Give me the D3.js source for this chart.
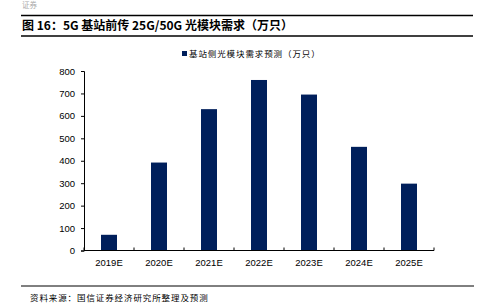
<!DOCTYPE html>
<html>
<head>
<meta charset="utf-8">
<script src="https://cdn.jsdelivr.net/npm/d3@7"></script>
<style>
  body { margin: 0; background: #fff; }
  svg { display: block; }
</style>
</head>
<body>
<svg id="chart" width="492" height="307"></svg>
<script>
const years = ["2019E", "2020E", "2021E", "2022E", "2023E", "2024E", "2025E"];
const demand = [70, 392, 630, 760, 695, 462, 298];
const yTicks = [0, 100, 200, 300, 400, 500, 600, 700, 800];
const seriesName = "基站侧光模块需求预测（万只）";
const titleText = "图 16：5G 基站前传 25G/50G 光模块需求（万只）";
const sourceText = "资料来源：国信证券经济研究所整理及预测";

const svg = d3.select("#chart");
const cjk = "'Noto Sans CJK SC', sans-serif";
const latin = "'Liberation Sans', Arial, sans-serif";

// header piece at the very top of the page
svg.append("text").attr("x", 22).attr("y", 8)
  .attr("font-family", cjk).attr("font-size", 7.5).attr("fill", "#aaa").text("证券");

// title bar lines
svg.append("line").attr("x1", 21).attr("x2", 473).attr("y1", 15.5).attr("y2", 15.5)
  .attr("stroke", "#000").attr("stroke-width", 1.3);
svg.append("line").attr("x1", 21).attr("x2", 473).attr("y1", 36).attr("y2", 36)
  .attr("stroke", "#000").attr("stroke-width", 1.3);

svg.append("text").attr("x", 22).attr("y", 30)
  .attr("font-family", cjk).attr("font-size", 12).attr("font-weight", "bold")
  .text(titleText);

let x = d3.scaleBand()
  .domain(years)
  .range([84, 434])
  .paddingInner(0.68)
  .paddingOuter(0.34);

let y = d3.scaleLinear()
  .domain([0, 800])
  .range([250.5, 71]);

// bars
svg.append("g").selectAll("rect")
  .data(demand)
  .join("rect")
  .attr("x", (d, i) => x(years[i]))
  .attr("width", x.bandwidth())
  .attr("y", d => y(d))
  .attr("height", d => y(0) - y(d))
  .attr("fill", "#001f5b");

// y axis
let yAxis = svg.append("g")
  .attr("transform", "translate(84,0)")
  .call(d3.axisLeft(y).tickValues(yTicks).tickSize(3).tickPadding(6));
yAxis.selectAll("text").attr("font-family", latin).attr("font-size", 9.5).attr("fill", "#000");
yAxis.selectAll("line, path").attr("stroke", "#000");

// x axis, ticks sit between categories
let xAxis = svg.append("g").attr("transform", `translate(0,${y(0)})`);
xAxis.append("line").attr("x1", 84).attr("x2", 434).attr("stroke", "#000");
xAxis.selectAll(".tk")
  .data(d3.range(years.length + 1))
  .join("line")
  .attr("x1", i => 84 + i * x.step())
  .attr("x2", i => 84 + i * x.step())
  .attr("y1", -3).attr("y2", 0)
  .attr("stroke", "#000");
xAxis.selectAll("text")
  .data(years)
  .join("text")
  .attr("x", d => x(d) + x.bandwidth() / 2)
  .attr("y", 15)
  .attr("text-anchor", "middle")
  .attr("font-family", latin).attr("font-size", 9.5)
  .text(d => d);

// legend
svg.append("rect").attr("x", 182).attr("y", 51).attr("width", 5).attr("height", 5).attr("fill", "#001f5b");
svg.append("text").attr("x", 189).attr("y", 57)
  .attr("font-family", cjk).attr("font-size", 8.5).attr("letter-spacing", 0.9).text(seriesName);

// footer
svg.append("line").attr("x1", 21).attr("x2", 474).attr("y1", 286).attr("y2", 286)
  .attr("stroke", "#000").attr("stroke-width", 1);
svg.append("text").attr("x", 30).attr("y", 301)
  .attr("font-family", cjk).attr("font-size", 8.5).attr("letter-spacing", 0.9).text(sourceText);
</script>
</body>
</html>
